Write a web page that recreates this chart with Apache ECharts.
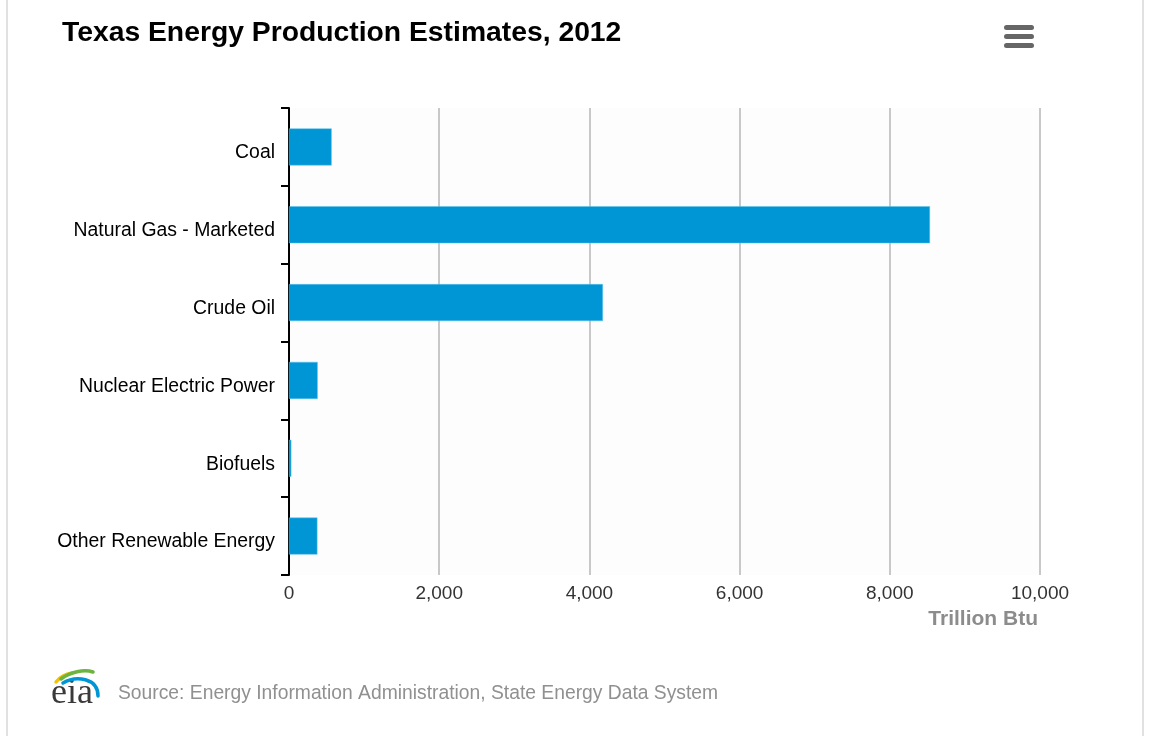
<!DOCTYPE html>
<html>
<head>
<meta charset="utf-8">
<script src="https://cdn.jsdelivr.net/npm/echarts@6/dist/echarts.min.js"></script>
<style>
html,body{margin:0;padding:0;background:#fff;}
#chart{width:1170px;height:736px;}
</style>
</head>
<body>
<div id="chart"></div>
<script>
var categories = ['Coal', 'Natural Gas - Marketed', 'Crude Oil', 'Nuclear Electric Power', 'Biofuels', 'Other Renewable Energy'];
var values = [568, 8535, 4180, 382, 31, 378];
var xTicks = { min: 0, max: 10000, interval: 2000 };
var titleText = 'Texas Energy Production Estimates, 2012';
var unitText = 'Trillion Btu';
var sourceText = 'Source: Energy Information Administration, State Energy Data System';

var chart = echarts.init(document.getElementById('chart'), null, { renderer: 'canvas' });
var font = 'Liberation Sans, Arial, Helvetica, sans-serif';

chart.setOption({
  backgroundColor: '#ffffff',
  animation: false,
  title: {
    text: titleText,
    left: 57,
    top: 14,
    textStyle: { fontFamily: font, fontSize: 28.3, fontWeight: 'bold', color: '#000000' }
  },
  grid: { left: 289, right: 130, top: 108, bottom: 161, containLabel: false, show: true, backgroundColor: '#fdfdfd', borderWidth: 0 },
  xAxis: {
    type: 'value',
    min: xTicks.min,
    max: xTicks.max,
    interval: xTicks.interval,
    axisLine: { show: false },
    axisTick: { show: false },
    axisLabel: {
      fontFamily: font, fontSize: 19, color: '#333333', margin: 9,
      formatter: function (v) { return v.toLocaleString('en-US'); }
    },
    splitLine: {
      show: true,
      lineStyle: { color: '#c8c8c8', width: 2 },
      showMinLine: false
    }
  },
  yAxis: {
    type: 'category',
    data: categories,
    inverse: true,
    axisLine: { show: true, lineStyle: { color: '#000000', width: 2 } },
    axisTick: { show: true, length: 8, alignWithLabel: false, lineStyle: { color: '#000000', width: 2 } },
    axisLabel: {
      margin: 14,
      formatter: function (v) { return '{a|' + v + '}'; },
      rich: { a: { fontFamily: font, fontSize: 19.4, color: '#000000', padding: [12, 0, 0, 0] } }
    },
    splitLine: { show: false }
  },
  series: [{
    type: 'bar',
    data: values,
    barWidth: 37,
    itemStyle: { color: '#0096d6', borderColor: '#5cc0ea', borderWidth: 0.5 },
    z: 1
  }],
  graphic: [
    { type: 'rect', shape: { x: 7, y: -2, width: 1136, height: 740 }, style: { fill: 'none', stroke: '#d8d8d8', lineWidth: 1.5 }, silent: true, z: -10 },
    { type: 'rect', shape: { x: 1004, y: 25, width: 30, height: 5, r: 2.5 }, style: { fill: '#666666' } },
    { type: 'rect', shape: { x: 1004, y: 34, width: 30, height: 5, r: 2.5 }, style: { fill: '#666666' } },
    { type: 'rect', shape: { x: 1004, y: 43, width: 30, height: 5, r: 2.5 }, style: { fill: '#666666' } },
    { type: 'text', x: 1038, y: 619, style: { text: unitText, fontFamily: font, fontSize: 21, fontWeight: 'bold', fill: '#8c8c8c', align: 'right', verticalAlign: 'middle' } },
    { type: 'text', x: 118, y: 694, style: { text: sourceText, fontFamily: font, fontSize: 19.3, fill: '#909090', align: 'left', verticalAlign: 'middle' } },
    { type: 'text', x: 51, y: 712, style: { text: 'eia', fontFamily: 'Liberation Serif, DejaVu Serif, serif', fontSize: 36, fill: '#3a3a3a', align: 'left', verticalAlign: 'bottom' } },
    { type: 'bezierCurve', shape: { x1: 56, y1: 682, x2: 72, y2: 673, cpx1: 60, cpy1: 677, cpx2: 65, cpy2: 674 }, style: { stroke: '#f2c300', lineWidth: 3.5, fill: 'none', lineCap: 'round' } },
    { type: 'bezierCurve', shape: { x1: 61, y1: 679, x2: 93, y2: 672, cpx1: 70, cpy1: 672, cpx2: 84, cpy2: 669 }, style: { stroke: '#6db33f', lineWidth: 3.5, fill: 'none', lineCap: 'round' } },
    { type: 'bezierCurve', shape: { x1: 63, y1: 683, x2: 98, y2: 696, cpx1: 76, cpy1: 675, cpx2: 98, cpy2: 678 }, style: { stroke: '#0096d6', lineWidth: 3.5, fill: 'none', lineCap: 'round' } }
  ]
});
</script>
</body>
</html>
